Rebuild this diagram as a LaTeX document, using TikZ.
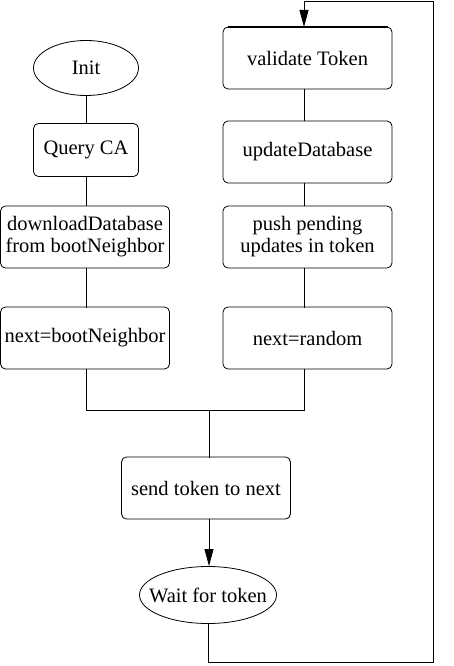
\documentclass[tikz,border=0pt]{standalone}
\usepackage{fontspec}
\setmainfont{Liberation Serif}
\usetikzlibrary{shapes.geometric,arrows.meta}
\begin{document}
\begin{tikzpicture}[x=1pt,y=-1pt,
  box/.style={draw,line width=0.8pt,rounded corners=5pt,minimum width=169pt,minimum height=62pt,inner sep=0pt,align=center,font=\fontsize{20.5}{22}\selectfont},
  oval/.style={draw,line width=0.8pt,ellipse,inner sep=0pt,font=\fontsize{20.5}{22}\selectfont},
  conn/.style={line width=0.8pt},
  tip/.style={-{Triangle[length=17pt,width=9pt]}}]
\useasboundingbox (0,0) rectangle (453,666);
\node[oval,minimum width=105pt,minimum height=55pt] (init) at (86,68) {Init};
\node[box,minimum width=105pt,minimum height=53pt] (query) at (86,150) {Query CA};
\node[box] (download) at (85,237) {downloadDatabase\\from bootNeighbor};
\node[box] (nextboot) at (85,338) {next=bootNeighbor};
\node[box] (validate) at (307.5,58) {validate Token};
\node[box] (update) at (307.5,152) {updateDatabase};
\node[box] (push) at (307.5,237) {push pending\\updates in token};
\node[box] (nextrand) at (307.5,338) {next=random};
\node[box] (send) at (206,488) {send token to next};
\node[oval,inner xsep=-10.5pt,minimum height=57pt] (wait) at (208,595) {Wait for token};
\coordinate (j) at (209,410);
\coordinate (c1) at (208,662);
\coordinate (c2) at (433,662);
\coordinate (c3) at (433,1);
\coordinate (c4) at (304,1);
\draw[conn] (init.south) -- (86,124);
\draw[conn] (86,177) -- (86,206);
\draw[conn] (86,268) -- (86,308);
\draw[conn] (86,369) |- (j);
\draw[conn] (304,89) -- (304,121);
\draw[conn] (304,183) -- (304,206);
\draw[conn] (304,268) -- (304,308);
\draw[conn] (304,369) |- (j);
\draw[conn] (j) -- (209,458);
\draw[conn,tip] (209,519) -- (209,566);
\draw[conn] (wait.south) -- (c1) -- (c2) -- (c3) -- (c4);
\draw[conn,tip] (c4) -- (304,27);
\draw[line width=1.5pt] (228,27) -- (388,27);
\end{tikzpicture}
\end{document}
